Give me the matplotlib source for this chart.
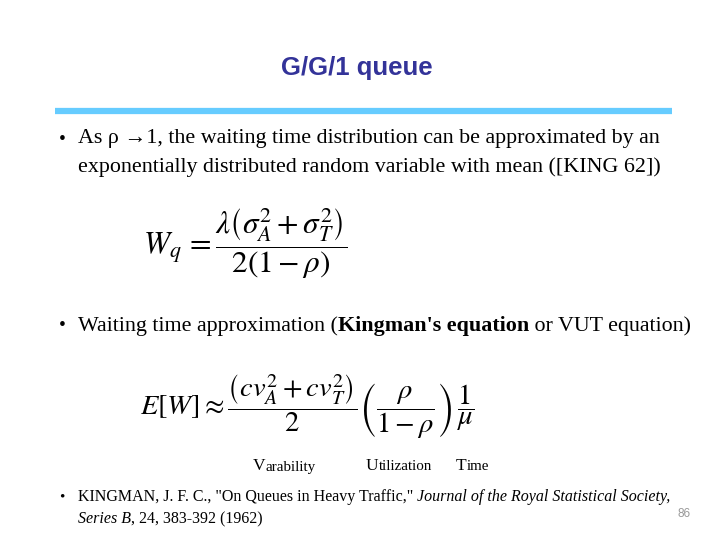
import matplotlib
matplotlib.use("Agg")
import matplotlib.pyplot as plt

plt.rcParams["mathtext.fontset"] = "stix"

TITULO = "G/G/1 queue"
BULLET_1 = ["As ρ →1, the waiting time distribution can be approximated by an",
            "exponentially distributed random variable with mean ([KING 62])"]
BULLET_2 = [("Waiting time approximation (", "normal"),
            ("Kingman's equation", "bold"),
            (" or VUT equation)", "normal")]
FORMULA_1 = r"$W_q\,=\dfrac{\lambda\left(\sigma_A^2+\sigma_T^2\right)}{2\left(1-\rho\right)}$"
FORMULA_2 = (r"$E\left[W\right]\approx\dfrac{\left(cv_A^2+cv_T^2\right)}{2}"
             r"\left(\dfrac{\rho}{1-\rho}\right)\,\dfrac{1}{\mu}$")
ROTULOS = [("V", "arability", 253), ("U", "tilization", 366), ("T", "ime", 456)]
REF_1 = [("KINGMAN, J. F. C., \"On Queues in Heavy Traffic,\" ", "normal"),
         ("Journal of the Royal Statistical Society,", "italic")]
REF_2 = [("Series B", "italic"), (", 24, 383-392 (1962)", "normal")]
PAGINA = "86"

SERIF = "Liberation Serif"

fig = plt.figure(figsize=(7.2, 5.4), dpi=100)
ax = fig.add_axes([0, 0, 1, 1])
ax.set_xlim(0, 720)
ax.set_ylim(540, 0)
ax.axis("off")
renderer = fig.canvas.get_renderer()


def linha(x, y, partes, size, **kw):
    # escreve trechos em sequência, cada um com seu estilo
    for texto, estilo in partes:
        props = dict(family=SERIF, fontsize=size, va="center", ha="left")
        if estilo == "bold":
            props["fontweight"] = "bold"
        elif estilo == "italic":
            props["fontstyle"] = "italic"
        props.update(kw)
        t = ax.text(x, y, texto, **props)
        bb = t.get_window_extent(renderer)
        x = ax.transData.inverted().transform((bb.x1, bb.y0))[0]
    return x


ax.text(357, 68, TITULO, family="Liberation Sans", fontweight="bold",
        fontsize=18.5, color="#333399", ha="center", va="center")
ax.plot([55, 672], [111, 111], color="#66CCFF", linewidth=4.5,
        solid_capstyle="butt")

ax.text(62, 139, "•", family=SERIF, fontsize=14, va="center", ha="center")
ax.text(78, 139, BULLET_1[0], family=SERIF, fontsize=15.8, va="center")
ax.text(78, 167, BULLET_1[1], family=SERIF, fontsize=15.8, va="center")

ax.text(143, 244, FORMULA_1, fontsize=22.5, va="center", ha="left")

ax.text(62, 326, "•", family=SERIF, fontsize=14, va="center", ha="center")
linha(78, 326, BULLET_2, 15.8)

ax.text(140, 407, FORMULA_2, fontsize=20.5, va="center", ha="left")

for inicial, resto, x0 in ROTULOS:
    xr = linha(x0, 466, [(inicial, "normal")], 12.5)
    linha(xr, 467, [(resto, "normal")], 10.8)

ax.text(62, 497, "•", family=SERIF, fontsize=11, va="center", ha="center")
linha(78, 497, REF_1, 11.5)
linha(78, 519, REF_2, 11.5)
ax.text(684, 514, PAGINA, family="Liberation Sans", fontsize=8.5,
        color="#999999", ha="center", va="center")

fig.savefig("out.png", dpi=100)
